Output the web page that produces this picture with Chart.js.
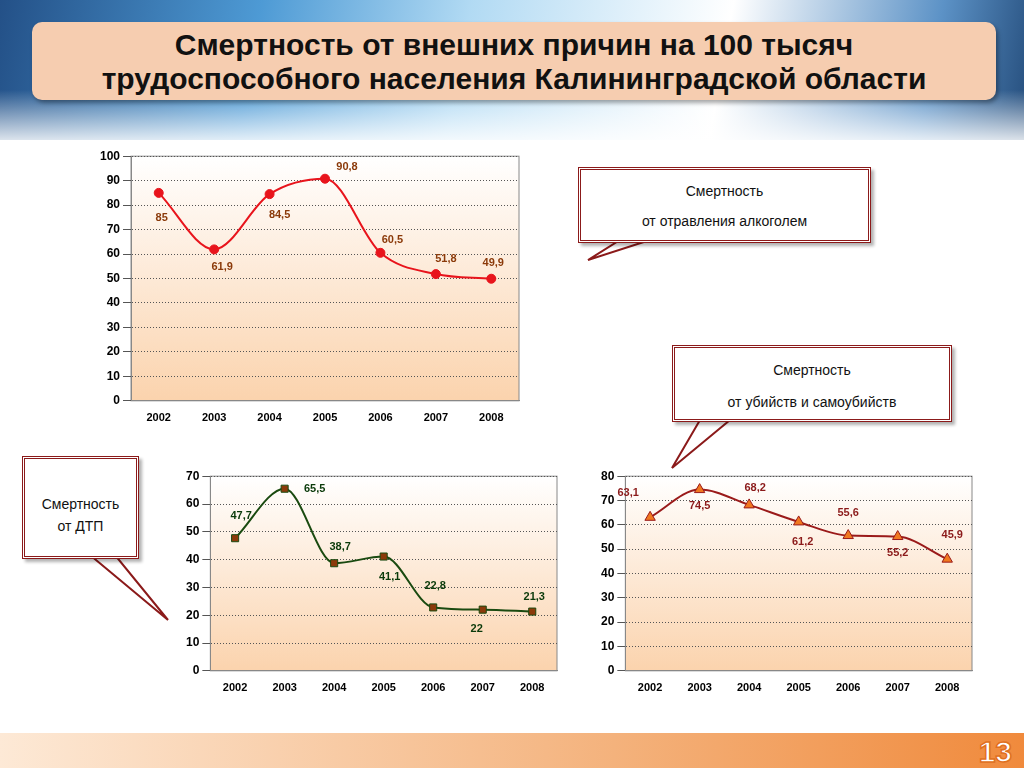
<!DOCTYPE html>
<html><head><meta charset="utf-8">
<script src="https://cdn.jsdelivr.net/npm/chart.js@4"></script>
<style>
body{margin:0;width:1024px;height:768px;position:relative;overflow:hidden;font-family:"Liberation Sans",Arial,sans-serif;background:#fff}
#banner{position:absolute;left:0;top:0;width:1024px;height:140px;background:linear-gradient(100deg,#0b3d7a 0%,#3a8fd0 25%,#a9d6f2 45%,#ffffff 70%,#4a86c0 90%,#0d3a6e 100%);opacity:.9}
#fade{position:absolute;left:0;top:90px;width:1024px;height:60px;background:linear-gradient(#ffffff00,#fff)}
#title{position:absolute;left:32px;top:22px;width:964px;height:78px;background:#f6cdb0;border-radius:10px;box-shadow:2px 3px 4px rgba(0,0,0,.35);text-align:center;font-weight:bold;font-size:30px;line-height:34px;color:#111;padding-top:6px;box-sizing:border-box}
#foot{position:absolute;left:0;top:733px;width:1024px;height:35px;background:linear-gradient(90deg,#fde9d6,#f4b27c 60%,#f08a3c)}
#num{position:absolute;right:12px;top:735px;font-size:30px;font-weight:bold;color:#fff;-webkit-text-stroke:1.5px #e07020}
canvas{position:absolute}
.call{position:absolute;background:#fff;border:3px double #8b1a1a;box-shadow:3px 3px 3px rgba(0,0,0,.3);text-align:center;font-size:14px;color:#111;box-sizing:border-box}
svg{position:absolute;left:0;top:0}
</style></head><body>
<div id="banner"></div><div id="fade"></div>
<div id="title">Смертность от внешних причин на 100 тысяч<br>трудоспособного населения Калининградской области</div>
<svg width="1024" height="768">
<polygon points="620,240 650,240 588,260" fill="#fff" stroke="#8b1a1a" stroke-width="2"/>
<polygon points="700,420 730,420 672,468" fill="#fff" stroke="#8b1a1a" stroke-width="2"/>
<polygon points="90,555 115,555 168,620" fill="#fff" stroke="#8b1a1a" stroke-width="2"/>
</svg>
<div class="call" style="left:578px;top:167px;width:293px;height:76px;padding-top:6px;line-height:30px">Смертность<br>от отравления алкоголем</div>
<div class="call" style="left:672px;top:345px;width:280px;height:77px;padding-top:6px;line-height:32px">Смертность<br>от убийств и самоубийств</div>
<div class="call" style="left:22px;top:456px;width:117px;height:103px;padding-top:34px;line-height:22px">Смертность<br>от ДТП</div>
<div id="foot"></div><div id="num">13</div>
<canvas id="c1" style="left:97px;top:146px;width:430px;height:282px"></canvas>
<canvas id="c2" style="left:183px;top:466px;width:382px;height:232px"></canvas>
<canvas id="c3" style="left:598px;top:466px;width:382px;height:232px"></canvas>
<script>
const years=["2002","2003","2004","2005","2006","2007","2008"];
const alcohol=[85,61.9,84.5,90.8,60.5,51.8,49.9];
const alcoholLabels=["85","61,9","84,5","90,8","60,5","51,8","49,9"];
const traffic=[47.7,65.5,38.7,41.1,22.8,22,21.3];
const trafficLabels=["47,7","65,5","38,7","41,1","22,8","22","21,3"];
const violence=[63.1,74.5,68.2,61.2,55.6,55.2,45.9];
const violenceLabels=["63,1","74,5","68,2","61,2","55,6","55,2","45,9"];
const off1=[[3,25],[8,18],[10,21],[22,-12],[12,-13],[10,-15],[2,-16]];
const off2=[[6,-22],[30,0],[6,-16],[6,20],[2,-21],[-6,19],[2,-15]];
const off3=[[-22,-24],[0,16],[6,-17],[4,20],[0,-23],[0,16],[5,-24]];

const bgPlugin={id:'bg',beforeDraw(c){const a=c.chartArea,x=c.ctx;const g=x.createLinearGradient(0,a.top,0,a.bottom);g.addColorStop(0,'#ffffff');g.addColorStop(1,'#fbd3ad');x.save();x.fillStyle=g;x.fillRect(a.left,a.top,a.width,a.height);x.strokeStyle='#888';x.lineWidth=1;x.strokeRect(a.left,a.top,a.width,a.height);x.restore();}};
const lblPlugin={id:'lbl',afterDatasetsDraw(c){const o=c.options.plugins.lbl;const m=c.getDatasetMeta(0);const x=c.ctx;x.save();x.font='bold 11px "Liberation Sans",Arial';x.fillStyle=o.color;x.textAlign='center';x.textBaseline='middle';m.data.forEach((p,i)=>{x.fillText(o.labels[i],p.x+o.off[i][0],p.y+o.off[i][1]);});x.restore();}};

function mk(id,data,labels,off,max,line,pt,style,lc,size){
 new Chart(document.getElementById(id),{type:'line',plugins:[bgPlugin,lblPlugin],
 data:{labels:years,datasets:[{data,borderColor:line,borderWidth:2,tension:0.4,cubicInterpolationMode:'monotone',pointStyle:style,pointRadius:size,pointBackgroundColor:pt,pointBorderColor:line,pointBorderWidth:1}]},
 options:{responsive:false,animation:false,layout:{padding:{top:10,right:8}},
  plugins:{legend:{display:false},tooltip:{enabled:false},lbl:{labels,off,color:lc}},
  scales:{x:{offset:true,grid:{display:false},border:{color:'#888'},ticks:{color:'#000',font:{size:11,weight:'bold'}}},
   y:{min:0,max,ticks:{stepSize:10,color:'#000',font:{size:12,weight:'bold'}},grid:{color:'#555'},border:{color:'#888',dash:[1,2]}}}}});
}
mk('c1',alcohol,alcoholLabels,off1,100,'#e8141c','#e8141c','circle','#8b3a0a',4.5);
mk('c2',traffic,trafficLabels,off2,70,'#1a4a10','#8b3a0a','rect','#0a3a0a',5);
mk('c3',violence,violenceLabels,off3,80,'#9a1a1a','#f07820','triangle','#8b1a1a',6);
</script></body></html>
